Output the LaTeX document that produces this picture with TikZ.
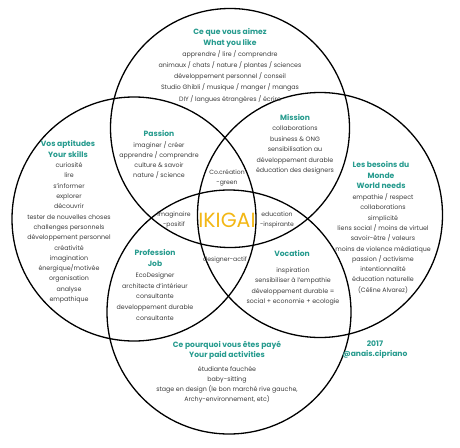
\documentclass[tikz,border=0pt]{standalone}
\usepackage{fontspec}
\setmainfont{Poppins}
\definecolor{teal1}{RGB}{38,155,142}
\definecolor{bodygray}{RGB}{60,60,60}
\definecolor{gold}{RGB}{243,183,20}
\begin{document}
\begin{tikzpicture}[x=1pt,y=-1pt,
  ring/.style={draw=black,line width=1.3pt},
  ttl/.style={text=teal1,font=\fontsize{7.6}{10.2}\selectfont\bfseries,align=center,inner sep=0pt},
  body/.style={text=bodygray,font=\fontsize{6.3}{10.4}\selectfont,align=center,inner sep=0pt},
  inter/.style={text=bodygray,font=\fontsize{6.1}{10.4}\selectfont,align=center,inner sep=0pt}]
\useasboundingbox (0,0) rectangle (460,447);
\fill[white] (0,0) rectangle (460,447);
% circles
\node[ring,circle,minimum size=239pt,inner sep=0pt] (ctop) at (230,128) {};
\node[ring,circle,minimum size=244pt,inner sep=0pt] (cleft) at (134,219) {};
\node[ring,circle,minimum size=245pt,inner sep=0pt] (cright) at (320,215) {};
\node[ring,circle,minimum size=244pt,inner sep=0pt] (cbot) at (229,312) {};
% top
\node[ttl] (t1) at (230,38) {Ce que vous aimez\\What you like};
\node[body,font=\fontsize{6.3}{11.2}\selectfont] (b1) at (230,76.5) {apprendre / lire / comprendre\\animaux / chats / nature / plantes / sciences\\développement personnel / conseil\\Studio Ghibli / musique / manger / mangas\\DIY / langues étrangères / écrire};
% left
\node[ttl] (t2) at (68,149) {Vos aptitudes\\Your skills};
\node[body,font=\fontsize{6.3}{10.3}\selectfont] (b2) at (69,233) {curiosité\\lire\\s'informer\\explorer\\découvrir\\tester de nouvelles choses\\challenges personnels\\développement personnel\\créativité\\imagination\\énergique/motivée\\organisation\\analyse\\empathique};
% right
\node[ttl] (t3) at (381,175) {Les besoins du\\Monde\\World needs};
\node[body,font=\fontsize{6.3}{10.3}\selectfont] (b3) at (383,243.5) {empathie / respect\\collaborations\\simplicité\\liens social / moins de virtuel\\savoir-être / valeurs\\moins de violence médiatique\\passion / activisme\\intentionnalité\\éducation naturelle\\(Céline Alvarez)};
% bottom
\node[ttl] (t4) at (227,350) {Ce pourquoi vous êtes payé\\Your paid activities};
\node[body,font=\fontsize{6.3}{10}\selectfont] (b4) at (227,385) {étudiante fauchée\\baby-sitting\\stage en design (le bon marché rive gauche,\\Archy-environnement, etc)};
% passion
\node[ttl] (t5) at (159,133) {Passion};
\node[body,font=\fontsize{6.3}{10}\selectfont] (b5) at (159,160) {imaginer / créer\\apprendre / comprendre\\culture \& savoir\\nature / science};
% mission
\node[ttl] (t6) at (295,117) {Mission};
\node[body,font=\fontsize{6.3}{10.5}\selectfont] (b6) at (295,150) {collaborations\\business \& ONG\\sensibilisation au\\développement durable\\éducation des designers};
% profession
\node[ttl] (t7) at (155,258) {Profession\\Job};
\node[body,font=\fontsize{6.3}{10.7}\selectfont] (b7) at (155,296.5) {EcoDesigner\\architecte d'intérieur\\consultante\\developpement durable\\consultante};
% vocation
\node[ttl] (t8) at (292,253) {Vocation};
\node[body,font=\fontsize{6.3}{10.3}\selectfont] (b8) at (293,286.5) {inspiration\\sensibiliser à l'empathie\\développement durable =\\social + economie + ecologie};
% intersections
\node[inter] (i1) at (227,178) {Co.création\\-green};
\node[inter] (i2) at (174,220) {imaginaire\\-positif};
\node[inter] (i3) at (277,220) {education\\-inspirante};
\node[inter] (i4) at (225,260) {designer-actif};
\node[text=gold,font=\fontsize{20.5}{22}\selectfont,inner sep=0pt] (ik) at (227,220) {IKIGAI};
% credit
\node[ttl] (cr) at (375,350) {2017\\@anais.cipriano};
\end{tikzpicture}
\end{document}
